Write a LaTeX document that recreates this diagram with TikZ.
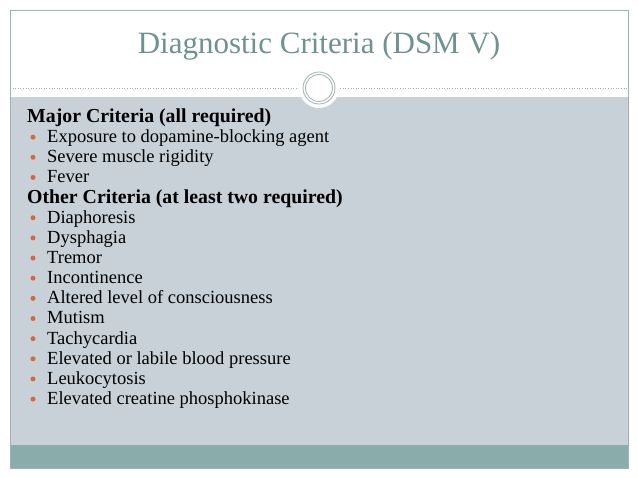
\documentclass[tikz,border=0pt]{standalone}
\usepackage{fontspec}
\setmainfont{Liberation Serif}
\begin{document}
\begin{tikzpicture}[x=1pt,y=-1pt,
  txt/.style={anchor=base west,inner sep=0pt,font=\fontsize{18.5}{20}\selectfont,text=black},
  hd/.style={txt,font=\fontsize{19.8}{21}\selectfont\bfseries},
  bul/.style={circle,fill=bulc,inner sep=0pt,minimum size=5pt}]
\definecolor{frame}{HTML}{9DB3B1}
\definecolor{panel}{HTML}{C7D1D7}
\definecolor{strip}{HTML}{8AACAA}
\definecolor{titlec}{HTML}{6E9290}
\definecolor{bulc}{HTML}{D9663F}
\useasboundingbox (0,0) rectangle (638,478);
\fill[white] (0,0) rectangle (638,478);
\fill[panel] (10,97) rectangle (628,445);
\fill[strip] (10,445) rectangle (628,468);
\draw[frame,line width=0.8pt] (10,10) rectangle (628,468);
\draw[frame,dotted,line width=0.6pt] (10,88) -- (628,88);
\fill[white] (319,88) circle (20);
\draw[frame,line width=0.8pt] (319,88) circle (16);
\draw[frame,line width=0.8pt] (319,88) circle (13.5);
\node[font=\fontsize{31}{33}\selectfont,text=titlec] (title) at (319,46) {Diagnostic Criteria (DSM V)};
\foreach \t [count=\i from 0] in {Major Criteria (all required),Exposure to dopamine-blocking agent,Severe muscle rigidity,Fever,Other Criteria (at least two required),Diaphoresis,Dysphagia,Tremor,Incontinence,Altered level of consciousness,Mutism,Tachycardia,Elevated or labile blood pressure,Leukocytosis,Elevated creatine phosphokinase}{
  \pgfmathsetmacro\yy{117+20.15*\i}
  \pgfmathsetmacro\bb{\yy+5.5}
  \ifnum\i=0 \node[hd] (l\i) at (27,\bb) {\t};
  \else\ifnum\i=4 \node[hd] (l\i) at (27,\bb) {\t};
  \else \node[txt] (l\i) at (47,\bb) {\t}; \node[bul] (b\i) at (33,\yy) {};
  \fi\fi}
\end{tikzpicture}
\end{document}
